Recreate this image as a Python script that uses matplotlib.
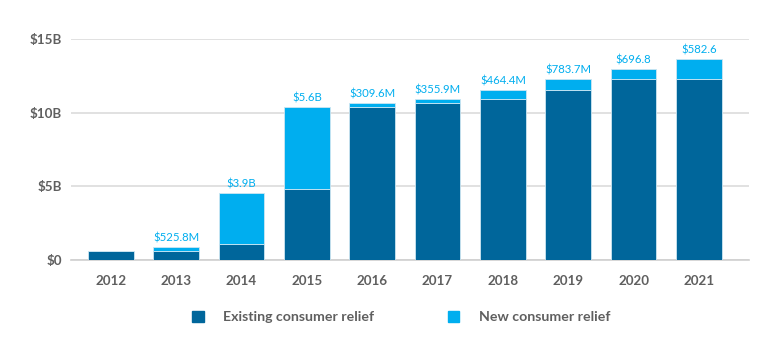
import matplotlib.pyplot as plt
from matplotlib.patches import Patch

plt.rcParams['font.family'] = ['Lato', 'DejaVu Sans']

years = ['2012', '2013', '2014', '2015', '2016', '2017', '2018', '2019', '2020', '2021']
# billions
existing = [0.61, 0.63, 1.06, 4.82, 10.37, 10.66, 10.93, 11.54, 12.31, 12.31]
new = [0.0, 0.27, 3.51, 5.55, 0.31, 0.27, 0.61, 0.77, 0.63, 1.36]
new_labels = ['', '$525.8M', '$3.9B', '$5.6B', '$309.6M', '$355.9M',
              '$464.4M', '$783.7M', '$696.8', '$582.6']
y_ticks = [0, 5, 10, 15]
y_tick_labels = ['$0', '$5B', '$10B', '$15B']

dark = '#00669b'
light = '#00aeef'
grey = '#5f5f5f'

fig = plt.figure(figsize=(7.84, 3.56), dpi=100)
ax = fig.add_axes([0.0906, 0.2697, 0.8651, 0.6207])

x = list(range(len(years)))
ax.bar(x, existing, width=0.70, color=dark, edgecolor='#cde6f2', linewidth=0.6, zorder=3)
ax.bar(x, new, bottom=existing, width=0.70, color=light, edgecolor='#cde6f2', linewidth=0.6, zorder=3)

for i, lab in enumerate(new_labels):
    if lab:
        ax.annotate(lab, (i, existing[i] + new[i]), xytext=(0, 2.5), textcoords='offset points',
                    ha='center', va='bottom', color=light, fontsize=8.2, annotation_clip=False)

ax.set_xlim(-0.61, 9.77)
ax.set_ylim(0, 15)
ax.set_yticks(y_ticks)
ax.set_yticklabels(y_tick_labels)
ax.set_xticks(x)
ax.set_xticklabels(years)
ax.tick_params(axis='both', length=0, labelsize=9.6, colors=grey)
ax.tick_params(axis='x', pad=11)
ax.tick_params(axis='y', pad=6.5)
for lbl in ax.get_xticklabels() + ax.get_yticklabels():
    lbl.set_fontweight('bold')
ax.grid(axis='y', color='#dcdcdc', linewidth=1.2, zorder=0)
for side in ['top', 'right', 'left']:
    ax.spines[side].set_visible(False)
ax.spines['bottom'].set_color('#cfcfcf')
ax.spines['bottom'].set_linewidth(1.2)

handles = [Patch(color=dark, label='Existing consumer relief'),
           Patch(color=light, label='New consumer relief')]
leg = fig.legend(handles=handles, loc='center', bbox_to_anchor=(0.512, 0.11), ncol=2,
                 frameon=False, handlelength=0.8, handleheight=0.8, handletextpad=1.4,
                 columnspacing=5.2, fontsize=10.2)
for t in leg.get_texts():
    t.set_color(grey)
    t.set_fontweight('bold')

fig.savefig('out.png', dpi=100, facecolor='white')
